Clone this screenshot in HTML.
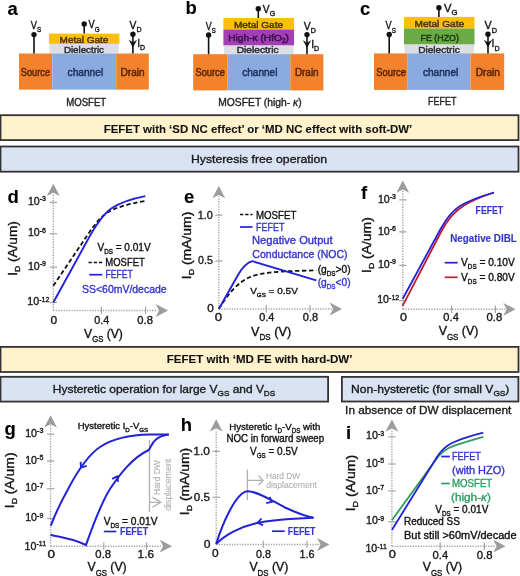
<!DOCTYPE html>
<html><head><meta charset="utf-8"><style>
html,body{margin:0;padding:0;background:#fff;width:520px;height:576px;overflow:hidden}
svg{display:block}
text{font-family:"Liberation Sans",Arial,sans-serif}
</style></head><body>
<svg width="520" height="576" viewBox="0 0 520 576">
<rect width="520" height="576" fill="#fff"/>
<text transform="translate(7.56,15.00) scale(1.0000,1)" font-size="18.50" font-weight="bold" stroke="#000" stroke-width="0.10" fill="#000"><tspan>a</tspan></text>
<text transform="translate(185.48,14.40) scale(1.0000,1)" font-size="18.50" font-weight="bold" stroke="#000" stroke-width="0.10" fill="#000"><tspan>b</tspan></text>
<text transform="translate(359.88,15.00) scale(1.0000,1)" font-size="18.50" font-weight="bold" stroke="#000" stroke-width="0.10" fill="#000"><tspan>c</tspan></text>
<rect x="49.00" y="33.60" width="70.40" height="10.40" fill="#fdbf0c"/>
<rect x="49.60" y="43.80" width="69.00" height="9.80" fill="#dcdee3"/>
<rect x="19.00" y="53.50" width="33.30" height="36.10" fill="#f3822c"/>
<rect x="52.30" y="53.50" width="63.90" height="36.10" fill="#8aaae0"/>
<rect x="116.20" y="53.50" width="32.60" height="36.10" fill="#f3822c"/>
<line x1="34.00" y1="34.60" x2="34.00" y2="53.50" stroke="#111" stroke-width="1.60"/>
<circle cx="34.00" cy="34.60" r="2.7" fill="#111"/>
<line x1="84.20" y1="24.00" x2="84.20" y2="33.60" stroke="#111" stroke-width="1.60"/>
<circle cx="84.20" cy="24.00" r="2.7" fill="#111"/>
<line x1="132.90" y1="34.20" x2="132.90" y2="53.50" stroke="#111" stroke-width="1.60"/>
<circle cx="132.90" cy="34.20" r="2.7" fill="#111"/>
<path d="M129.40 40.40 L132.90 42.80 L136.40 40.40 L132.90 46.90 Z" fill="#111" stroke="#111" stroke-width="0.6" stroke-linejoin="round"/>
<rect x="223.40" y="18.00" width="70.60" height="11.80" fill="#fdbf0c"/>
<rect x="223.40" y="29.60" width="70.60" height="16.00" fill="#a23fb7"/>
<rect x="224.00" y="45.50" width="69.50" height="8.80" fill="#dcdee3"/>
<rect x="193.20" y="54.20" width="34.00" height="36.20" fill="#f3822c"/>
<rect x="227.20" y="54.20" width="63.10" height="36.20" fill="#8aaae0"/>
<rect x="290.30" y="54.20" width="33.10" height="36.20" fill="#f3822c"/>
<line x1="208.60" y1="35.00" x2="208.60" y2="54.20" stroke="#111" stroke-width="1.60"/>
<circle cx="208.60" cy="35.00" r="2.7" fill="#111"/>
<line x1="258.30" y1="8.80" x2="258.30" y2="18.00" stroke="#111" stroke-width="1.60"/>
<circle cx="258.30" cy="8.80" r="2.7" fill="#111"/>
<line x1="307.00" y1="34.60" x2="307.00" y2="54.20" stroke="#111" stroke-width="1.60"/>
<circle cx="307.00" cy="34.60" r="2.7" fill="#111"/>
<path d="M303.50 40.80 L307.00 43.20 L310.50 40.80 L307.00 47.30 Z" fill="#111" stroke="#111" stroke-width="0.6" stroke-linejoin="round"/>
<rect x="404.00" y="16.90" width="70.50" height="11.70" fill="#fdbf0c"/>
<rect x="404.00" y="28.50" width="70.50" height="16.10" fill="#6aab45"/>
<rect x="404.50" y="44.50" width="69.50" height="9.00" fill="#dcdee3"/>
<rect x="374.00" y="53.40" width="33.70" height="36.50" fill="#f3822c"/>
<rect x="407.70" y="53.40" width="62.70" height="36.50" fill="#8aaae0"/>
<rect x="470.40" y="53.40" width="33.80" height="36.50" fill="#f3822c"/>
<line x1="389.20" y1="34.50" x2="389.20" y2="53.40" stroke="#111" stroke-width="1.60"/>
<circle cx="389.20" cy="34.50" r="2.7" fill="#111"/>
<line x1="438.90" y1="7.80" x2="438.90" y2="16.90" stroke="#111" stroke-width="1.60"/>
<circle cx="438.90" cy="7.80" r="2.7" fill="#111"/>
<line x1="488.00" y1="34.20" x2="488.00" y2="53.40" stroke="#111" stroke-width="1.60"/>
<circle cx="488.00" cy="34.20" r="2.7" fill="#111"/>
<path d="M484.50 40.40 L488.00 42.80 L491.50 40.40 L488.00 46.90 Z" fill="#111" stroke="#111" stroke-width="0.6" stroke-linejoin="round"/>
<text transform="translate(59.58,42.60) scale(1.0367,1)" font-size="9.64" stroke="#4a3805" stroke-width="0.50" fill="#4a3805"><tspan>Metal Gate</tspan></text>
<text transform="translate(63.90,52.60) scale(1.0135,1)" font-size="9.64" stroke="#2c2f38" stroke-width="0.50" fill="#2c2f38"><tspan>Dielectric</tspan></text>
<text transform="translate(20.78,75.60) scale(0.8926,1)" font-size="10.34" stroke="#5a2608" stroke-width="0.50" fill="#5a2608"><tspan>Source</tspan></text>
<text transform="translate(67.57,75.60) scale(0.9837,1)" font-size="10.34" stroke="#1f3462" stroke-width="0.50" fill="#1f3462"><tspan>channel</tspan></text>
<text transform="translate(120.47,75.60) scale(0.9793,1)" font-size="10.34" stroke="#5a2608" stroke-width="0.50" fill="#5a2608"><tspan>Drain</tspan></text>
<text transform="translate(233.98,27.90) scale(1.0410,1)" font-size="9.64" stroke="#4a3805" stroke-width="0.50" fill="#4a3805"><tspan>Metal Gate</tspan></text>
<text transform="translate(236.76,53.30) scale(1.0575,1)" font-size="9.64" stroke="#2c2f38" stroke-width="0.50" fill="#2c2f38"><tspan>Dielectric</tspan></text>
<text transform="translate(195.48,76.40) scale(0.8989,1)" font-size="10.34" stroke="#5a2608" stroke-width="0.50" fill="#5a2608"><tspan>Source</tspan></text>
<text transform="translate(242.17,76.40) scale(0.9751,1)" font-size="10.34" stroke="#1f3462" stroke-width="0.50" fill="#1f3462"><tspan>channel</tspan></text>
<text transform="translate(294.88,76.40) scale(0.9621,1)" font-size="10.34" stroke="#5a2608" stroke-width="0.50" fill="#5a2608"><tspan>Drain</tspan></text>
<text transform="translate(414.46,27.00) scale(1.0563,1)" font-size="9.64" stroke="#4a3805" stroke-width="0.50" fill="#4a3805"><tspan>Metal Gate</tspan></text>
<text transform="translate(418.17,52.60) scale(1.0497,1)" font-size="9.64" stroke="#2c2f38" stroke-width="0.50" fill="#2c2f38"><tspan>Dielectric</tspan></text>
<text transform="translate(376.27,75.60) scale(0.9083,1)" font-size="10.34" stroke="#5a2608" stroke-width="0.50" fill="#5a2608"><tspan>Source</tspan></text>
<text transform="translate(422.97,75.60) scale(0.9751,1)" font-size="10.34" stroke="#1f3462" stroke-width="0.50" fill="#1f3462"><tspan>channel</tspan></text>
<text transform="translate(475.66,75.60) scale(0.9880,1)" font-size="10.34" stroke="#5a2608" stroke-width="0.50" fill="#5a2608"><tspan>Drain</tspan></text>
<text transform="translate(228.27,41.00) scale(1.0389,1)" font-size="9.78" stroke="#3a0f48" stroke-width="0.50" fill="#3a0f48"><tspan>High-κ (HfO</tspan><tspan font-size="6.35" dy="2.44">2</tspan><tspan dy="-2.44">)</tspan></text>
<text transform="translate(420.47,40.60) scale(0.9084,1)" font-size="9.78" stroke="#1b3a0c" stroke-width="0.50" fill="#1b3a0c"><tspan>FE (HZO)</tspan></text>
<text transform="translate(66.21,106.00) scale(0.9418,1)" font-size="10.20" stroke="#222" stroke-width="0.35" fill="#222"><tspan>MOSFET</tspan></text>
<text transform="translate(218.25,106.20) scale(1.0105,1)" font-size="10.20" stroke="#222" stroke-width="0.35" fill="#222"><tspan>MOSFET (high- </tspan><tspan font-style="italic">κ</tspan><tspan>)</tspan></text>
<text transform="translate(428.06,105.30) scale(0.8810,1)" font-size="10.20" stroke="#222" stroke-width="0.35" fill="#222"><tspan>FEFET</tspan></text>
<text transform="translate(30.76,28.50) scale(0.8461,1)" font-size="10.89" stroke="#111" stroke-width="0.35" fill="#111"><tspan>V</tspan><tspan font-size="7.41" dy="3.59">S</tspan></text>
<text transform="translate(88.56,28.00) scale(0.8530,1)" font-size="10.89" stroke="#111" stroke-width="0.35" fill="#111"><tspan>V</tspan><tspan font-size="7.41" dy="3.59">G</tspan></text>
<text transform="translate(129.55,28.50) scale(0.9498,1)" font-size="10.89" stroke="#111" stroke-width="0.35" fill="#111"><tspan>V</tspan><tspan font-size="7.41" dy="3.59">D</tspan></text>
<text transform="translate(137.15,46.80) scale(0.9406,1)" font-size="10.89" stroke="#111" stroke-width="0.35" fill="#111"><tspan>I</tspan><tspan font-size="7.41" dy="3.59">D</tspan></text>
<text transform="translate(205.86,29.50) scale(0.8122,1)" font-size="10.89" stroke="#111" stroke-width="0.35" fill="#111"><tspan>V</tspan><tspan font-size="7.41" dy="3.59">S</tspan></text>
<text transform="translate(262.85,12.60) scale(0.9415,1)" font-size="10.89" stroke="#111" stroke-width="0.35" fill="#111"><tspan>V</tspan><tspan font-size="7.41" dy="3.59">G</tspan></text>
<text transform="translate(303.75,29.50) scale(0.9580,1)" font-size="10.89" stroke="#111" stroke-width="0.35" fill="#111"><tspan>V</tspan><tspan font-size="7.41" dy="3.59">D</tspan></text>
<text transform="translate(311.24,47.60) scale(0.9549,1)" font-size="10.89" stroke="#111" stroke-width="0.35" fill="#111"><tspan>I</tspan><tspan font-size="7.41" dy="3.59">D</tspan></text>
<text transform="translate(385.56,29.00) scale(0.8461,1)" font-size="10.89" stroke="#111" stroke-width="0.35" fill="#111"><tspan>V</tspan><tspan font-size="7.41" dy="3.59">S</tspan></text>
<text transform="translate(443.95,11.60) scale(1.0300,1)" font-size="10.89" stroke="#111" stroke-width="0.35" fill="#111"><tspan>V</tspan><tspan font-size="7.41" dy="3.59">G</tspan></text>
<text transform="translate(484.55,29.00) scale(0.9907,1)" font-size="10.89" stroke="#111" stroke-width="0.35" fill="#111"><tspan>V</tspan><tspan font-size="7.41" dy="3.59">D</tspan></text>
<text transform="translate(491.54,47.20) scale(0.9549,1)" font-size="10.89" stroke="#111" stroke-width="0.35" fill="#111"><tspan>I</tspan><tspan font-size="7.41" dy="3.59">D</tspan></text>
<rect x="0.50" y="115.20" width="518.00" height="24.90" fill="#fff2cc" stroke="#333" stroke-width="1.8"/>
<rect x="0.50" y="146.50" width="518.00" height="25.20" fill="#dae3f3" stroke="#333" stroke-width="1.8"/>
<rect x="0.50" y="346.90" width="518.00" height="25.10" fill="#fff2cc" stroke="#333" stroke-width="1.8"/>
<rect x="0.50" y="376.80" width="327.60" height="24.80" fill="#dae3f3" stroke="#333" stroke-width="1.8"/>
<rect x="341.90" y="376.90" width="176.50" height="24.60" fill="#dae3f3" stroke="#333" stroke-width="1.8"/>
<text transform="translate(103.73,133.00) scale(0.9874,1)" font-size="11.59" font-weight="bold" stroke="#111" stroke-width="0.10" fill="#111"><tspan>FEFET with ‘SD NC effect’ or ‘MD NC effect with soft-DW’</tspan></text>
<text transform="translate(190.99,163.40) scale(1.0444,1)" font-size="11.73" stroke="#1a1a1a" stroke-width="0.35" fill="#1a1a1a"><tspan>Hysteresis free operation</tspan></text>
<text transform="translate(166.73,362.80) scale(1.0331,1)" font-size="11.17" font-weight="bold" stroke="#111" stroke-width="0.10" fill="#111"><tspan>FEFET with ‘MD FE with hard-DW’</tspan></text>
<text transform="translate(52.82,393.00) scale(1.0708,1)" font-size="11.17" stroke="#1a1a1a" stroke-width="0.35" fill="#1a1a1a"><tspan>Hysteretic operation for large V</tspan><tspan font-size="7.60" dy="3.35">GS</tspan><tspan dy="-3.35"> and V</tspan><tspan font-size="7.60" dy="3.35">DS</tspan></text>
<text transform="translate(351.01,393.00) scale(1.0842,1)" font-size="11.17" stroke="#1a1a1a" stroke-width="0.35" fill="#1a1a1a"><tspan>Non-hysteretic (for small V</tspan><tspan font-size="7.60" dy="3.35">GS</tspan><tspan dy="-3.35">)</tspan></text>
<text transform="translate(345.11,414.00) scale(1.0541,1)" font-size="11.17" stroke="#1a1a1a" stroke-width="0.35" fill="#1a1a1a"><tspan>In absence of DW displacement</tspan></text>
<text transform="translate(7.54,203.40) scale(1.0000,1)" font-size="18.50" font-weight="bold" stroke="#000" stroke-width="0.10" fill="#000"><tspan>d</tspan></text>
<line x1="53.30" y1="310.50" x2="53.30" y2="194.10" stroke="#a4a4a4" stroke-width="1.4" stroke-dasharray="1.3 1.3"/>
<line x1="53.30" y1="310.50" x2="157.70" y2="310.50" stroke="#a4a4a4" stroke-width="1.4" stroke-dasharray="1.3 1.3"/>
<path d="M53.30 183.80 L59.70 196.10 L53.30 192.80 L46.90 196.10 Z" fill="#9c9c9c"/>
<path d="M168.00 310.50 L155.70 304.10 L159.00 310.50 L155.70 316.90 Z" fill="#9c9c9c"/>
<line x1="49.70" y1="202.30" x2="57.10" y2="202.30" stroke="#a4a4a4" stroke-width="1.2"/>
<line x1="49.70" y1="233.75" x2="57.10" y2="233.75" stroke="#a4a4a4" stroke-width="1.2"/>
<line x1="49.70" y1="267.20" x2="57.10" y2="267.20" stroke="#a4a4a4" stroke-width="1.2"/>
<line x1="49.70" y1="302.60" x2="57.10" y2="302.60" stroke="#a4a4a4" stroke-width="1.2"/>
<line x1="101.40" y1="306.70" x2="101.40" y2="314.10" stroke="#a4a4a4" stroke-width="1.2"/>
<line x1="145.60" y1="306.70" x2="145.60" y2="314.10" stroke="#a4a4a4" stroke-width="1.2"/>
<text transform="translate(27.89,204.90) scale(1.0016,1)" font-size="10.61" stroke="#1a1a1a" stroke-width="0.35" fill="#1a1a1a"><tspan>10</tspan></text>
<text transform="translate(39.79,201.30) scale(1.0000,1)" font-size="7.00" stroke="#1a1a1a" stroke-width="0.35" fill="#1a1a1a"><tspan>-3</tspan></text>
<text transform="translate(27.89,236.35) scale(1.0016,1)" font-size="10.61" stroke="#1a1a1a" stroke-width="0.35" fill="#1a1a1a"><tspan>10</tspan></text>
<text transform="translate(39.79,232.75) scale(1.0000,1)" font-size="7.00" stroke="#1a1a1a" stroke-width="0.35" fill="#1a1a1a"><tspan>-6</tspan></text>
<text transform="translate(27.89,269.80) scale(1.0016,1)" font-size="10.61" stroke="#1a1a1a" stroke-width="0.35" fill="#1a1a1a"><tspan>10</tspan></text>
<text transform="translate(39.79,266.20) scale(1.0000,1)" font-size="7.00" stroke="#1a1a1a" stroke-width="0.35" fill="#1a1a1a"><tspan>-9</tspan></text>
<text transform="translate(27.34,305.20) scale(1.0016,1)" font-size="10.61" stroke="#1a1a1a" stroke-width="0.35" fill="#1a1a1a"><tspan>10</tspan></text>
<text transform="translate(39.24,301.60) scale(1.0000,1)" font-size="7.00" stroke="#1a1a1a" stroke-width="0.35" fill="#1a1a1a"><tspan>-12</tspan></text>
<text transform="translate(50.53,323.60) scale(1.1234,1)" font-size="10.61" stroke="#1a1a1a" stroke-width="0.35" fill="#1a1a1a"><tspan>0</tspan></text>
<text transform="translate(94.27,323.50) scale(1.0264,1)" font-size="10.61" stroke="#1a1a1a" stroke-width="0.35" fill="#1a1a1a"><tspan>0.4</tspan></text>
<text transform="translate(137.36,323.50) scale(1.0591,1)" font-size="10.61" stroke="#1a1a1a" stroke-width="0.35" fill="#1a1a1a"><tspan>0.8</tspan></text>
<text transform="translate(16.70,274.60) rotate(-90) scale(1.0851,1) translate(-1.16,0)" font-size="12.57" stroke="#111" stroke-width="0.35" fill="#111"><tspan>I</tspan><tspan font-size="7.92" dy="3.02">D</tspan><tspan dy="-3.02"> (A/um)</tspan></text>
<text transform="translate(84.05,337.50) scale(0.9430,1)" font-size="12.85" stroke="#111" stroke-width="0.35" fill="#111"><tspan>V</tspan><tspan font-size="8.22" dy="4.63">GS</tspan><tspan dy="-4.63"> (V)</tspan></text>
<path d="M53.3,285.8 L88,234.3 C95,224 100,218 106,213.5 C115,207.5 128,204 145.3,201" stroke="#111" stroke-width="1.80" fill="none" stroke-dasharray="4.4 2.6"/>
<path d="M53.3,302.5 L86,243 C95,226 103,214 112,208 C122,201.5 133,198.5 145.3,196.1" stroke="#2222d8" stroke-width="1.90" fill="none"/>
<text transform="translate(97.46,251.00) scale(0.9262,1)" font-size="10.89" stroke="#111" stroke-width="0.35" fill="#111"><tspan>V</tspan><tspan font-size="6.75" dy="2.94">DS</tspan><tspan dy="-2.94"> = 0.01V</tspan></text>
<line x1="88.50" y1="262.50" x2="102.30" y2="262.50" stroke="#111" stroke-width="1.50" stroke-dasharray="3.3 1.9"/>
<text transform="translate(105.22,266.20) scale(0.9096,1)" font-size="10.47" stroke="#111" stroke-width="0.35" fill="#111"><tspan>MOSFET</tspan></text>
<line x1="89.30" y1="274.70" x2="102.30" y2="274.70" stroke="#2222d8" stroke-width="1.70"/>
<text transform="translate(105.39,278.20) scale(0.8608,1)" font-size="10.06" stroke="#3333cc" stroke-width="0.35" fill="#3333cc"><tspan>FEFET</tspan></text>
<text transform="translate(82.02,292.60) scale(0.9376,1)" font-size="11.17" stroke="#3333cc" stroke-width="0.35" fill="#3333cc"><tspan>SS&lt;60mV/decade</tspan></text>
<text transform="translate(183.98,202.80) scale(1.0000,1)" font-size="18.50" font-weight="bold" stroke="#000" stroke-width="0.10" fill="#000"><tspan>e</tspan></text>
<line x1="218.80" y1="309.00" x2="218.80" y2="196.30" stroke="#a4a4a4" stroke-width="1.4" stroke-dasharray="1.3 1.3"/>
<line x1="218.80" y1="309.00" x2="331.70" y2="309.00" stroke="#a4a4a4" stroke-width="1.4" stroke-dasharray="1.3 1.3"/>
<path d="M218.80 186.00 L225.20 198.30 L218.80 195.00 L212.40 198.30 Z" fill="#9c9c9c"/>
<path d="M342.00 309.00 L329.70 302.60 L333.00 309.00 L329.70 315.40 Z" fill="#9c9c9c"/>
<line x1="215.20" y1="215.10" x2="222.60" y2="215.10" stroke="#a4a4a4" stroke-width="1.2"/>
<line x1="215.20" y1="261.00" x2="222.60" y2="261.00" stroke="#a4a4a4" stroke-width="1.2"/>
<line x1="266.30" y1="305.20" x2="266.30" y2="312.60" stroke="#a4a4a4" stroke-width="1.2"/>
<line x1="310.00" y1="305.20" x2="310.00" y2="312.60" stroke="#a4a4a4" stroke-width="1.2"/>
<text transform="translate(197.67,218.60) scale(1.0272,1)" font-size="10.61" stroke="#1a1a1a" stroke-width="0.35" fill="#1a1a1a"><tspan>1.0</tspan></text>
<text transform="translate(198.09,264.40) scale(1.0003,1)" font-size="10.61" stroke="#1a1a1a" stroke-width="0.35" fill="#1a1a1a"><tspan>0.5</tspan></text>
<text transform="translate(207.24,312.20) scale(1.1036,1)" font-size="10.61" stroke="#1a1a1a" stroke-width="0.35" fill="#1a1a1a"><tspan>0</tspan></text>
<text transform="translate(214.79,320.50) scale(1.2416,1)" font-size="10.61" stroke="#1a1a1a" stroke-width="0.35" fill="#1a1a1a"><tspan>0</tspan></text>
<text transform="translate(259.17,321.30) scale(1.0264,1)" font-size="10.61" stroke="#1a1a1a" stroke-width="0.35" fill="#1a1a1a"><tspan>0.4</tspan></text>
<text transform="translate(302.87,321.30) scale(1.0375,1)" font-size="10.61" stroke="#1a1a1a" stroke-width="0.35" fill="#1a1a1a"><tspan>0.8</tspan></text>
<text transform="translate(191.40,277.90) rotate(-90) scale(1.1095,1) translate(-1.16,0)" font-size="12.57" stroke="#111" stroke-width="0.35" fill="#111"><tspan>I</tspan><tspan font-size="7.92" dy="3.02">D</tspan><tspan dy="-3.02"> (mA/um)</tspan></text>
<text transform="translate(250.94,335.80) scale(0.9890,1)" font-size="12.85" stroke="#111" stroke-width="0.35" fill="#111"><tspan>V</tspan><tspan font-size="8.22" dy="4.63">DS</tspan><tspan dy="-4.63"> (V)</tspan></text>
<path d="M218.8,309 C228,294 238,282 250,277 C262,272 285,271 316.3,270.4" stroke="#111" stroke-width="1.80" fill="none" stroke-dasharray="4.4 2.6"/>
<path d="M218.8,309 L238,275 C242,268 247,262.5 252.5,261.2 L316.3,280.3" stroke="#2222d8" stroke-width="1.90" fill="none"/>
<line x1="240.00" y1="214.60" x2="252.50" y2="214.60" stroke="#111" stroke-width="1.50" stroke-dasharray="3.3 1.9"/>
<text transform="translate(255.90,218.50) scale(0.9043,1)" font-size="10.75" stroke="#111" stroke-width="0.35" fill="#111"><tspan>MOSFET</tspan></text>
<line x1="240.00" y1="227.00" x2="252.50" y2="227.00" stroke="#2222d8" stroke-width="1.70"/>
<text transform="translate(255.96,231.00) scale(0.8352,1)" font-size="10.75" stroke="#3333cc" stroke-width="0.35" fill="#3333cc"><tspan>FEFET</tspan></text>
<text transform="translate(251.98,243.80) scale(1.0397,1)" font-size="10.75" stroke="#3333cc" stroke-width="0.35" fill="#3333cc"><tspan>Negative Output</tspan></text>
<text transform="translate(252.37,257.80) scale(0.9781,1)" font-size="10.75" stroke="#3333cc" stroke-width="0.35" fill="#3333cc"><tspan>Conductance (NOC)</tspan></text>
<text transform="translate(317.67,273.20) scale(0.9895,1)" font-size="10.34" stroke="#111" stroke-width="0.35" fill="#111"><tspan>(g</tspan><tspan font-size="6.41" dy="3.10">DS</tspan><tspan dy="-3.10">&gt;0)</tspan></text>
<text transform="translate(317.67,286.20) scale(0.9895,1)" font-size="10.34" stroke="#3333cc" stroke-width="0.35" fill="#3333cc"><tspan>(g</tspan><tspan font-size="6.41" dy="3.10">DS</tspan><tspan dy="-3.10">&lt;0)</tspan></text>
<text transform="translate(250.16,294.20) scale(1.0248,1)" font-size="9.78" stroke="#111" stroke-width="0.35" fill="#111"><tspan>V</tspan><tspan font-size="6.06" dy="2.64">GS</tspan><tspan dy="-2.64"> = 0.5V</tspan></text>
<text transform="translate(361.08,199.00) scale(1.0000,1)" font-size="18.50" font-weight="bold" stroke="#000" stroke-width="0.10" fill="#000"><tspan>f</tspan></text>
<line x1="402.80" y1="309.30" x2="402.80" y2="190.80" stroke="#a4a4a4" stroke-width="1.4" stroke-dasharray="1.3 1.3"/>
<line x1="402.80" y1="309.30" x2="505.30" y2="309.30" stroke="#a4a4a4" stroke-width="1.4" stroke-dasharray="1.3 1.3"/>
<path d="M402.80 180.50 L409.20 192.80 L402.80 189.50 L396.40 192.80 Z" fill="#9c9c9c"/>
<path d="M515.60 309.30 L503.30 302.90 L506.60 309.30 L503.30 315.70 Z" fill="#9c9c9c"/>
<line x1="399.20" y1="199.90" x2="406.60" y2="199.90" stroke="#a4a4a4" stroke-width="1.2"/>
<line x1="399.20" y1="231.90" x2="406.60" y2="231.90" stroke="#a4a4a4" stroke-width="1.2"/>
<line x1="399.20" y1="265.40" x2="406.60" y2="265.40" stroke="#a4a4a4" stroke-width="1.2"/>
<line x1="399.20" y1="300.70" x2="406.60" y2="300.70" stroke="#a4a4a4" stroke-width="1.2"/>
<line x1="451.60" y1="305.50" x2="451.60" y2="312.90" stroke="#a4a4a4" stroke-width="1.2"/>
<line x1="495.40" y1="305.50" x2="495.40" y2="312.90" stroke="#a4a4a4" stroke-width="1.2"/>
<text transform="translate(377.89,202.50) scale(1.0016,1)" font-size="10.61" stroke="#1a1a1a" stroke-width="0.35" fill="#1a1a1a"><tspan>10</tspan></text>
<text transform="translate(389.79,198.90) scale(1.0000,1)" font-size="7.00" stroke="#1a1a1a" stroke-width="0.35" fill="#1a1a1a"><tspan>-3</tspan></text>
<text transform="translate(377.89,234.50) scale(1.0016,1)" font-size="10.61" stroke="#1a1a1a" stroke-width="0.35" fill="#1a1a1a"><tspan>10</tspan></text>
<text transform="translate(389.79,230.90) scale(1.0000,1)" font-size="7.00" stroke="#1a1a1a" stroke-width="0.35" fill="#1a1a1a"><tspan>-6</tspan></text>
<text transform="translate(377.89,268.00) scale(1.0016,1)" font-size="10.61" stroke="#1a1a1a" stroke-width="0.35" fill="#1a1a1a"><tspan>10</tspan></text>
<text transform="translate(389.79,264.40) scale(1.0000,1)" font-size="7.00" stroke="#1a1a1a" stroke-width="0.35" fill="#1a1a1a"><tspan>-9</tspan></text>
<text transform="translate(377.19,303.30) scale(1.0016,1)" font-size="10.61" stroke="#1a1a1a" stroke-width="0.35" fill="#1a1a1a"><tspan>10</tspan></text>
<text transform="translate(389.09,299.70) scale(1.0000,1)" font-size="7.00" stroke="#1a1a1a" stroke-width="0.35" fill="#1a1a1a"><tspan>-12</tspan></text>
<text transform="translate(399.91,321.40) scale(1.1825,1)" font-size="10.61" stroke="#1a1a1a" stroke-width="0.35" fill="#1a1a1a"><tspan>0</tspan></text>
<text transform="translate(443.37,321.40) scale(1.0477,1)" font-size="10.61" stroke="#1a1a1a" stroke-width="0.35" fill="#1a1a1a"><tspan>0.4</tspan></text>
<text transform="translate(486.56,321.40) scale(1.0663,1)" font-size="10.61" stroke="#1a1a1a" stroke-width="0.35" fill="#1a1a1a"><tspan>0.8</tspan></text>
<text transform="translate(371.30,271.70) rotate(-90) scale(1.1078,1) translate(-1.16,0)" font-size="12.57" stroke="#111" stroke-width="0.35" fill="#111"><tspan>I</tspan><tspan font-size="7.92" dy="3.02">D</tspan><tspan dy="-3.02"> (A/um)</tspan></text>
<text transform="translate(438.65,335.20) scale(0.9653,1)" font-size="12.85" stroke="#111" stroke-width="0.35" fill="#111"><tspan>V</tspan><tspan font-size="8.22" dy="4.63">GS</tspan><tspan dy="-4.63"> (V)</tspan></text>
<path d="M402.6,305.8 L441,232 C447,220.5 455,211 464,205.5 C472,200.5 482,196.5 494,192.5" stroke="#c41a2a" stroke-width="1.80" fill="none"/>
<path d="M402.6,299 L440,230 C446,219 452,211 460,206 C468,201 480,196.5 494,192.5" stroke="#2222d8" stroke-width="1.80" fill="none"/>
<text transform="translate(475.62,213.80) scale(0.8283,1)" font-size="10.47" font-weight="bold" stroke="#3333cc" stroke-width="0.10" fill="#3333cc"><tspan>FEFET</tspan></text>
<text transform="translate(450.14,242.30) scale(0.9264,1)" font-size="10.61" font-weight="bold" stroke="#3333cc" stroke-width="0.10" fill="#3333cc"><tspan>Negative DIBL</tspan></text>
<line x1="444.70" y1="262.70" x2="457.70" y2="262.70" stroke="#2222d8" stroke-width="1.70"/>
<text transform="translate(461.06,266.20) scale(0.9723,1)" font-size="10.47" stroke="#111" stroke-width="0.35" fill="#111"><tspan>V</tspan><tspan font-size="6.49" dy="2.83">DS</tspan><tspan dy="-2.83"> = 0.10V</tspan></text>
<line x1="444.70" y1="277.30" x2="457.70" y2="277.30" stroke="#c41a2a" stroke-width="1.70"/>
<text transform="translate(461.06,280.80) scale(0.9723,1)" font-size="10.47" stroke="#111" stroke-width="0.35" fill="#111"><tspan>V</tspan><tspan font-size="6.49" dy="2.83">DS</tspan><tspan dy="-2.83"> = 0.80V</tspan></text>
<text transform="translate(4.44,435.40) scale(1.0000,1)" font-size="18.50" font-weight="bold" stroke="#000" stroke-width="0.10" fill="#000"><tspan>g</tspan></text>
<line x1="50.60" y1="546.20" x2="50.60" y2="425.50" stroke="#a4a4a4" stroke-width="1.4" stroke-dasharray="1.3 1.3"/>
<line x1="50.60" y1="546.20" x2="161.80" y2="546.20" stroke="#a4a4a4" stroke-width="1.4" stroke-dasharray="1.3 1.3"/>
<path d="M50.60 415.20 L57.00 427.50 L50.60 424.20 L44.20 427.50 Z" fill="#9c9c9c"/>
<path d="M172.10 546.20 L159.80 539.80 L163.10 546.20 L159.80 552.60 Z" fill="#9c9c9c"/>
<line x1="47.00" y1="434.20" x2="54.40" y2="434.20" stroke="#a4a4a4" stroke-width="1.2"/>
<line x1="47.00" y1="461.00" x2="54.40" y2="461.00" stroke="#a4a4a4" stroke-width="1.2"/>
<line x1="47.00" y1="488.70" x2="54.40" y2="488.70" stroke="#a4a4a4" stroke-width="1.2"/>
<line x1="47.00" y1="518.50" x2="54.40" y2="518.50" stroke="#a4a4a4" stroke-width="1.2"/>
<line x1="103.80" y1="542.40" x2="103.80" y2="549.80" stroke="#a4a4a4" stroke-width="1.2"/>
<line x1="146.50" y1="542.40" x2="146.50" y2="549.80" stroke="#a4a4a4" stroke-width="1.2"/>
<text transform="translate(25.19,436.80) scale(1.0016,1)" font-size="10.61" stroke="#1a1a1a" stroke-width="0.35" fill="#1a1a1a"><tspan>10</tspan></text>
<text transform="translate(37.09,433.20) scale(1.0000,1)" font-size="7.00" stroke="#1a1a1a" stroke-width="0.35" fill="#1a1a1a"><tspan>-3</tspan></text>
<text transform="translate(25.19,463.60) scale(1.0016,1)" font-size="10.61" stroke="#1a1a1a" stroke-width="0.35" fill="#1a1a1a"><tspan>10</tspan></text>
<text transform="translate(37.09,460.00) scale(1.0000,1)" font-size="7.00" stroke="#1a1a1a" stroke-width="0.35" fill="#1a1a1a"><tspan>-5</tspan></text>
<text transform="translate(25.19,491.30) scale(1.0016,1)" font-size="10.61" stroke="#1a1a1a" stroke-width="0.35" fill="#1a1a1a"><tspan>10</tspan></text>
<text transform="translate(37.09,487.70) scale(1.0000,1)" font-size="7.00" stroke="#1a1a1a" stroke-width="0.35" fill="#1a1a1a"><tspan>-7</tspan></text>
<text transform="translate(25.19,521.10) scale(1.0016,1)" font-size="10.61" stroke="#1a1a1a" stroke-width="0.35" fill="#1a1a1a"><tspan>10</tspan></text>
<text transform="translate(37.09,517.50) scale(1.0000,1)" font-size="7.00" stroke="#1a1a1a" stroke-width="0.35" fill="#1a1a1a"><tspan>-9</tspan></text>
<text transform="translate(24.59,550.00) scale(1.0016,1)" font-size="10.61" stroke="#1a1a1a" stroke-width="0.35" fill="#1a1a1a"><tspan>10</tspan></text>
<text transform="translate(36.49,546.40) scale(1.0000,1)" font-size="7.00" stroke="#1a1a1a" stroke-width="0.35" fill="#1a1a1a"><tspan>-11</tspan></text>
<text transform="translate(47.47,557.50) scale(1.2810,1)" font-size="10.61" stroke="#1a1a1a" stroke-width="0.35" fill="#1a1a1a"><tspan>0</tspan></text>
<text transform="translate(95.36,558.00) scale(1.0663,1)" font-size="10.61" stroke="#1a1a1a" stroke-width="0.35" fill="#1a1a1a"><tspan>0.8</tspan></text>
<text transform="translate(137.60,558.00) scale(1.1127,1)" font-size="10.61" stroke="#1a1a1a" stroke-width="0.35" fill="#1a1a1a"><tspan>1.6</tspan></text>
<text transform="translate(14.00,506.90) rotate(-90) scale(1.1058,1) translate(-1.16,0)" font-size="12.57" stroke="#111" stroke-width="0.35" fill="#111"><tspan>I</tspan><tspan font-size="7.92" dy="3.02">D</tspan><tspan dy="-3.02"> (A/um)</tspan></text>
<text transform="translate(87.45,571.40) scale(0.9554,1)" font-size="12.85" stroke="#111" stroke-width="0.35" fill="#111"><tspan>V</tspan><tspan font-size="8.22" dy="4.63">GS</tspan><tspan dy="-4.63"> (V)</tspan></text>
<line x1="149.50" y1="440.00" x2="149.50" y2="512.00" stroke="#b0b0b0" stroke-width="1.30"/>
<path d="M149.5,502.3 L160.8,502.3 M152.4,497.4 L160.8,502.3 L152.4,507.2" stroke="#b0b0b0" stroke-width="1.30" fill="none"/>
<text transform="translate(159.60,494.20) rotate(-90) scale(1.0048,1) translate(-0.69,0)" font-size="8.38" stroke="#b0b0b0" stroke-width="0.10" fill="#b0b0b0"><tspan>Hard DW</tspan></text>
<text transform="translate(171.00,510.50) rotate(-90) scale(1.0580,1) translate(-0.35,0)" font-size="8.38" stroke="#b0b0b0" stroke-width="0.10" fill="#b0b0b0"><tspan>displacement</tspan></text>
<path d="M168.75,434.5 L150,434.5 C130,434.8 112,439 100,447 C88,455 76,474 68,489.2 C62,500 56,512 50.8,525.6" stroke="#2222d8" stroke-width="2.00" fill="none"/>
<path d="M50.5,535 C62,537 76,540 86,545 C92,528 100,505 110,489 C120,474 132,458 148.75,450 C152,446 152,437 168.75,434.5" stroke="#2222d8" stroke-width="2.00" fill="none"/>
<path d="M80.6,461.9 L81,467.6 L86.6,465.9" stroke="#2222d8" stroke-width="1.90" fill="none"/>
<path d="M112.1,478.9 L117.3,476.4 L118.2,481.8" stroke="#2222d8" stroke-width="1.80" fill="none"/>
<text transform="translate(77.72,428.80) scale(1.0028,1)" font-size="9.50" stroke="#111" stroke-width="0.35" fill="#111"><tspan>Hysteretic I</tspan><tspan font-size="6.17" dy="2.85">D</tspan><tspan dy="-2.85">-V</tspan><tspan font-size="6.17" dy="2.85">GS</tspan></text>
<text transform="translate(103.71,524.80) scale(0.9999,1)" font-size="10.20" stroke="#111" stroke-width="0.35" fill="#111"><tspan>V</tspan><tspan font-size="6.32" dy="2.75">DS</tspan><tspan dy="-2.75"> = 0.01V</tspan></text>
<line x1="103.80" y1="531.50" x2="116.30" y2="531.50" stroke="#2222d8" stroke-width="1.70"/>
<text transform="translate(120.00,535.10) scale(0.8499,1)" font-size="10.47" font-weight="bold" stroke="#3333cc" stroke-width="0.10" fill="#3333cc"><tspan>FEFET</tspan></text>
<text transform="translate(180.81,431.00) scale(1.0000,1)" font-size="18.50" font-weight="bold" stroke="#000" stroke-width="0.10" fill="#000"><tspan>h</tspan></text>
<line x1="216.20" y1="544.50" x2="216.20" y2="429.50" stroke="#a4a4a4" stroke-width="1.4" stroke-dasharray="1.3 1.3"/>
<line x1="216.20" y1="544.50" x2="319.20" y2="544.50" stroke="#a4a4a4" stroke-width="1.4" stroke-dasharray="1.3 1.3"/>
<path d="M216.20 419.20 L222.60 431.50 L216.20 428.20 L209.80 431.50 Z" fill="#9c9c9c"/>
<path d="M329.50 544.50 L317.20 538.10 L320.50 544.50 L317.20 550.90 Z" fill="#9c9c9c"/>
<line x1="212.60" y1="451.40" x2="220.00" y2="451.40" stroke="#a4a4a4" stroke-width="1.2"/>
<line x1="212.60" y1="497.30" x2="220.00" y2="497.30" stroke="#a4a4a4" stroke-width="1.2"/>
<line x1="263.20" y1="540.70" x2="263.20" y2="548.10" stroke="#a4a4a4" stroke-width="1.2"/>
<line x1="307.00" y1="540.70" x2="307.00" y2="548.10" stroke="#a4a4a4" stroke-width="1.2"/>
<text transform="translate(193.29,455.20) scale(1.1232,1)" font-size="10.61" stroke="#1a1a1a" stroke-width="0.35" fill="#1a1a1a"><tspan>1.0</tspan></text>
<text transform="translate(193.75,501.10) scale(1.0939,1)" font-size="10.61" stroke="#1a1a1a" stroke-width="0.35" fill="#1a1a1a"><tspan>0.5</tspan></text>
<text transform="translate(203.83,548.00) scale(1.1431,1)" font-size="10.61" stroke="#1a1a1a" stroke-width="0.35" fill="#1a1a1a"><tspan>0</tspan></text>
<text transform="translate(211.93,557.00) scale(1.1234,1)" font-size="10.61" stroke="#1a1a1a" stroke-width="0.35" fill="#1a1a1a"><tspan>0</tspan></text>
<text transform="translate(255.98,557.70) scale(1.0159,1)" font-size="10.61" stroke="#1a1a1a" stroke-width="0.35" fill="#1a1a1a"><tspan>0.8</tspan></text>
<text transform="translate(299.48,557.70) scale(1.0163,1)" font-size="10.61" stroke="#1a1a1a" stroke-width="0.35" fill="#1a1a1a"><tspan>1.6</tspan></text>
<text transform="translate(189.40,513.90) rotate(-90) scale(1.1078,1) translate(-1.16,0)" font-size="12.57" stroke="#111" stroke-width="0.35" fill="#111"><tspan>I</tspan><tspan font-size="7.92" dy="3.02">D</tspan><tspan dy="-3.02"> (mA/um)</tspan></text>
<text transform="translate(249.45,571.20) scale(0.9538,1)" font-size="12.85" stroke="#111" stroke-width="0.35" fill="#111"><tspan>V</tspan><tspan font-size="8.22" dy="4.63">DS</tspan><tspan dy="-4.63"> (V)</tspan></text>
<text transform="translate(229.21,429.60) scale(0.9884,1)" font-size="9.78" stroke="#111" stroke-width="0.35" fill="#111"><tspan>Hysteretic I</tspan><tspan font-size="6.35" dy="2.93">D</tspan><tspan dy="-2.93">-V</tspan><tspan font-size="6.35" dy="2.93">DS</tspan><tspan dy="-2.93"> with</tspan></text>
<text transform="translate(226.50,442.30) scale(0.9527,1)" font-size="10.20" stroke="#111" stroke-width="0.35" fill="#111"><tspan>NOC in forward sweep</tspan></text>
<text transform="translate(249.96,454.80) scale(0.9217,1)" font-size="10.89" stroke="#111" stroke-width="0.35" fill="#111"><tspan>V</tspan><tspan font-size="6.75" dy="2.94">GS</tspan><tspan dy="-2.94"> = 0.5V</tspan></text>
<line x1="247.40" y1="469.60" x2="247.40" y2="500.00" stroke="#b0b0b0" stroke-width="1.30"/>
<path d="M247.4,480.4 L263.1,480.4 M258.4,475.8 L263.1,480.4 L258.4,485" stroke="#b0b0b0" stroke-width="1.30" fill="none"/>
<text transform="translate(265.92,478.60) scale(0.8736,1)" font-size="9.50" stroke="#b0b0b0" stroke-width="0.10" fill="#b0b0b0"><tspan>Hard DW</tspan></text>
<text transform="translate(266.24,488.00) scale(0.9065,1)" font-size="9.50" stroke="#b0b0b0" stroke-width="0.10" fill="#b0b0b0"><tspan>displacement</tspan></text>
<path d="M216.2,544 C222,525 236,491.3 248,491.3 C258,491.3 272,501 285,507.5 C296,512.5 305,516 313.5,517.8" stroke="#2222d8" stroke-width="2.00" fill="none"/>
<path d="M313.5,517.8 C295,518.5 270,520 255,523.5 C240,527 225,535 216.2,544" stroke="#2222d8" stroke-width="2.00" fill="none"/>
<path d="M269.6,496.8 L271.9,501.9 L266.2,503.1" stroke="#2222d8" stroke-width="1.80" fill="none"/>
<path d="M261.5,518.5 L257.7,522.7 L263.1,525.4" stroke="#2222d8" stroke-width="1.80" fill="none"/>
<line x1="272.00" y1="531.20" x2="284.70" y2="531.20" stroke="#2222d8" stroke-width="1.70"/>
<text transform="translate(287.82,534.80) scale(0.8345,1)" font-size="10.47" font-weight="bold" stroke="#3333cc" stroke-width="0.10" fill="#3333cc"><tspan>FEFET</tspan></text>
<text transform="translate(346.11,438.50) scale(1.0000,1)" font-size="18.50" font-weight="bold" stroke="#000" stroke-width="0.10" fill="#000"><tspan>i</tspan></text>
<line x1="391.90" y1="546.20" x2="391.90" y2="429.80" stroke="#a4a4a4" stroke-width="1.4" stroke-dasharray="1.3 1.3"/>
<line x1="391.90" y1="546.20" x2="495.30" y2="546.20" stroke="#a4a4a4" stroke-width="1.4" stroke-dasharray="1.3 1.3"/>
<path d="M391.90 419.50 L398.30 431.80 L391.90 428.50 L385.50 431.80 Z" fill="#9c9c9c"/>
<path d="M505.60 546.20 L493.30 539.80 L496.60 546.20 L493.30 552.60 Z" fill="#9c9c9c"/>
<line x1="388.30" y1="436.80" x2="395.70" y2="436.80" stroke="#a4a4a4" stroke-width="1.2"/>
<line x1="388.30" y1="464.00" x2="395.70" y2="464.00" stroke="#a4a4a4" stroke-width="1.2"/>
<line x1="388.30" y1="491.00" x2="395.70" y2="491.00" stroke="#a4a4a4" stroke-width="1.2"/>
<line x1="388.30" y1="521.70" x2="395.70" y2="521.70" stroke="#a4a4a4" stroke-width="1.2"/>
<line x1="440.20" y1="542.40" x2="440.20" y2="549.80" stroke="#a4a4a4" stroke-width="1.2"/>
<line x1="484.40" y1="542.40" x2="484.40" y2="549.80" stroke="#a4a4a4" stroke-width="1.2"/>
<text transform="translate(365.99,439.40) scale(1.0016,1)" font-size="10.61" stroke="#1a1a1a" stroke-width="0.35" fill="#1a1a1a"><tspan>10</tspan></text>
<text transform="translate(377.89,435.80) scale(1.0000,1)" font-size="7.00" stroke="#1a1a1a" stroke-width="0.35" fill="#1a1a1a"><tspan>-3</tspan></text>
<text transform="translate(365.99,466.60) scale(1.0016,1)" font-size="10.61" stroke="#1a1a1a" stroke-width="0.35" fill="#1a1a1a"><tspan>10</tspan></text>
<text transform="translate(377.89,463.00) scale(1.0000,1)" font-size="7.00" stroke="#1a1a1a" stroke-width="0.35" fill="#1a1a1a"><tspan>-5</tspan></text>
<text transform="translate(365.99,493.60) scale(1.0016,1)" font-size="10.61" stroke="#1a1a1a" stroke-width="0.35" fill="#1a1a1a"><tspan>10</tspan></text>
<text transform="translate(377.89,490.00) scale(1.0000,1)" font-size="7.00" stroke="#1a1a1a" stroke-width="0.35" fill="#1a1a1a"><tspan>-7</tspan></text>
<text transform="translate(365.99,524.30) scale(1.0016,1)" font-size="10.61" stroke="#1a1a1a" stroke-width="0.35" fill="#1a1a1a"><tspan>10</tspan></text>
<text transform="translate(377.89,520.70) scale(1.0000,1)" font-size="7.00" stroke="#1a1a1a" stroke-width="0.35" fill="#1a1a1a"><tspan>-9</tspan></text>
<text transform="translate(365.39,552.20) scale(1.0016,1)" font-size="10.61" stroke="#1a1a1a" stroke-width="0.35" fill="#1a1a1a"><tspan>10</tspan></text>
<text transform="translate(377.29,548.60) scale(1.0000,1)" font-size="7.00" stroke="#1a1a1a" stroke-width="0.35" fill="#1a1a1a"><tspan>-11</tspan></text>
<text transform="translate(388.80,557.50) scale(1.2022,1)" font-size="10.61" stroke="#1a1a1a" stroke-width="0.35" fill="#1a1a1a"><tspan>0</tspan></text>
<text transform="translate(432.56,558.80) scale(1.0620,1)" font-size="10.61" stroke="#1a1a1a" stroke-width="0.35" fill="#1a1a1a"><tspan>0.4</tspan></text>
<text transform="translate(476.75,558.80) scale(1.0735,1)" font-size="10.61" stroke="#1a1a1a" stroke-width="0.35" fill="#1a1a1a"><tspan>0.8</tspan></text>
<text transform="translate(355.10,510.00) rotate(-90) scale(1.1223,1) translate(-1.16,0)" font-size="12.57" stroke="#111" stroke-width="0.35" fill="#111"><tspan>I</tspan><tspan font-size="7.92" dy="3.02">D</tspan><tspan dy="-3.02"> (A/um)</tspan></text>
<text transform="translate(422.85,571.30) scale(0.9529,1)" font-size="12.85" stroke="#111" stroke-width="0.35" fill="#111"><tspan>V</tspan><tspan font-size="8.22" dy="4.63">GS</tspan><tspan dy="-4.63"> (V)</tspan></text>
<path d="M391.9,520.2 L436,459.5 C441,452 447,448 455,445.3 C464,442.5 474,439.5 483.3,436.9" stroke="#2e9e5b" stroke-width="1.80" fill="none"/>
<path d="M391.9,530 L437,457 C441,450.5 446,446 452,443 C462,438.5 472,435.5 483.3,432.7" stroke="#2222d8" stroke-width="1.80" fill="none"/>
<line x1="441.20" y1="456.50" x2="449.80" y2="456.50" stroke="#2222d8" stroke-width="1.70"/>
<text transform="translate(451.95,460.40) scale(0.8817,1)" font-size="10.34" stroke="#3333cc" stroke-width="0.35" fill="#3333cc"><tspan>FEFET</tspan></text>
<text transform="translate(452.02,474.20) scale(1.0582,1)" font-size="10.34" stroke="#3333cc" stroke-width="0.35" fill="#3333cc"><tspan>(with HZO)</tspan></text>
<line x1="441.20" y1="483.50" x2="449.80" y2="483.50" stroke="#2e9e5b" stroke-width="1.70"/>
<text transform="translate(451.90,487.30) scale(0.9386,1)" font-size="10.34" stroke="#2ea060" stroke-width="0.35" fill="#2ea060"><tspan>MOSFET</tspan></text>
<text transform="translate(450.97,501.00) scale(1.1407,1)" font-size="10.34" stroke="#2ea060" stroke-width="0.35" fill="#2ea060"><tspan>(high-</tspan><tspan font-style="italic">κ</tspan><tspan>)</tspan></text>
<text transform="translate(435.36,513.10) scale(0.9708,1)" font-size="10.34" stroke="#111" stroke-width="0.35" fill="#111"><tspan>V</tspan><tspan font-size="6.41" dy="2.79">DS</tspan><tspan dy="-2.79"> = 0.01V</tspan></text>
<text transform="translate(404.09,524.60) scale(0.9878,1)" font-size="10.06" stroke="#111" stroke-width="0.35" fill="#111"><tspan>Reduced SS</tspan></text>
<text transform="translate(404.00,539.30) scale(1.0927,1)" font-size="10.06" stroke="#111" stroke-width="0.35" fill="#111"><tspan>But still &gt;60mV/decade</tspan></text>
</svg>
</body></html>
